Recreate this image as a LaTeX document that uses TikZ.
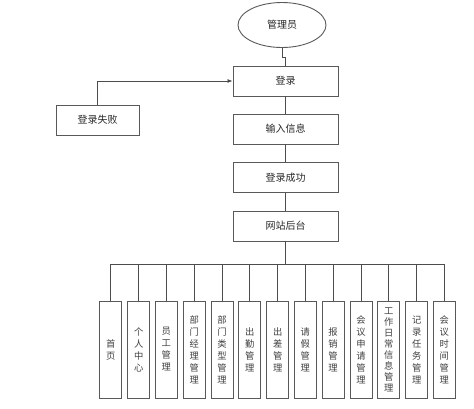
\documentclass[tikz,border=0pt]{standalone}
\usepackage{fontspec}
\newfontfamily\cjk{Noto Sans CJK SC}
\usetikzlibrary{shapes.geometric,arrows.meta}
\begin{document}
\begin{tikzpicture}[x=1pt,y=-1pt,
 box/.style={draw=black!65, line width=0.9pt, minimum width=105pt, minimum height=30pt, inner sep=0pt, text=black!85, font=\cjk\fontsize{10}{12}\selectfont},
 sub/.style={draw=black!65, line width=0.9pt, minimum width=22pt, minimum height=97pt, inner sep=0pt, align=center, text=black!75, font=\cjk\fontsize{9.3}{12}\selectfont},
 conn/.style={draw=black!70, line width=0.8pt}]
\useasboundingbox (0,0) rectangle (474,408);
\node[ellipse, draw=black!65, line width=0.9pt, minimum width=88pt, minimum height=45pt, inner sep=0pt, text=black!85, font=\cjk\fontsize{10}{12}\selectfont] (admin) at (282,25) {管理员};
\node[box] (login) at (285.5,81) {登录};
\node[box, minimum width=83pt] (fail) at (97.5,120) {登录失败};
\node[box] (input) at (285.5,129) {输入信息};
\node[box] (succ) at (285.5,177.5) {登录成功};
\node[box] (back) at (285.5,226) {网站后台};
\coordinate (bus) at (285.5,264);

\node[sub] (s1) at (110.7,349.5) {首\\页};
\node[sub] (s2) at (138.7,349.5) {个\\人\\中\\心};
\node[sub] (s3) at (166.3,349.5) {员\\工\\管\\理};
\node[sub] (s4) at (194.3,349.5) {部\\门\\经\\理\\管\\理};
\node[sub] (s5) at (222.0,349.5) {部\\门\\类\\型\\管\\理};
\node[sub] (s6) at (249.7,349.5) {出\\勤\\管\\理};
\node[sub] (s7) at (277.7,349.5) {出\\差\\管\\理};
\node[sub] (s8) at (305.3,349.5) {请\\假\\管\\理};
\node[sub] (s9) at (333.0,349.5) {报\\销\\管\\理};
\node[sub] (s10) at (361.0,349.5) {会\\议\\申\\请\\管\\理};
\node[sub, font=\cjk\fontsize{9.3}{11}\selectfont] (s11) at (388.7,349.5) {工\\作\\日\\常\\信\\息\\管\\理};
\node[sub] (s12) at (416.7,349.5) {记\\录\\任\\务\\管\\理};
\node[sub] (s13) at (444.3,349.5) {会\\议\\时\\间\\管\\理};

\draw[conn] (admin.south) -- ++(0,9) -| (login.north);
\draw[conn, -{Latex[length=5pt,width=4pt]}] (fail.north) |- (login.west);
\draw[conn] (login.south) -- (input.north);
\draw[conn] (input.south) -- (succ.north);
\draw[conn] (succ.south) -- (back.north);
\draw[conn] (back.south) -- (bus);
\draw[conn] (s1.north) -- (s1.north |- bus) -- (s13.north |- bus) -- (s13.north);
\foreach \k in {2,...,12} {\draw[conn] (s\k.north) -- (s\k.north |- bus);}
\end{tikzpicture}
\end{document}
